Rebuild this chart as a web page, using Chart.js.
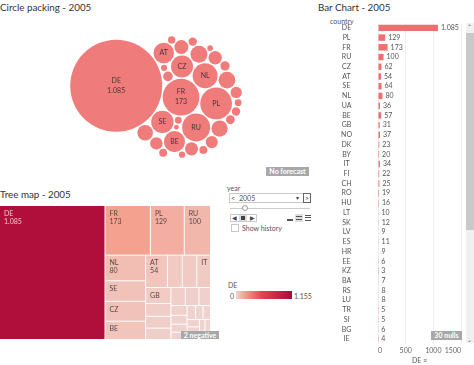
<!DOCTYPE html>
<html>
<head>
<meta charset="utf-8">
<script src="https://cdn.jsdelivr.net/npm/chart.js@4.4.0/dist/chart.umd.min.js"></script>
<style>
  body { margin: 0; width: 474px; height: 365px; overflow: hidden; background: #fff; font-family: Lato, sans-serif; color: #333; position: relative; }
  .abs { position: absolute; }
  .title { font-size: 9.8px; color: #333; white-space: nowrap; }
  .small { font-size: 7px; color: #555; white-space: nowrap; }
  .badge { background: #a8a8a8; color: #fff; font-size: 7px; font-weight: bold; text-align: center; }
  .box { border: 1px solid #c9c9c9; background: #fff; box-sizing: border-box; }
</style>
</head>
<body>

<div class="abs title" style="left:0;top:1px">Circle packing - 2005</div>
<canvas id="packChart" class="abs" style="left:0;top:14px" width="312" height="166"></canvas>
<div class="abs badge" style="left:266px;top:167px;width:43px;height:9px;line-height:9px">No forecast</div>

<div class="abs title" style="left:0;top:188px">Tree map - 2005</div>
<canvas id="treeChart" class="abs" style="left:0;top:206px" width="211" height="134"></canvas>
<div class="abs badge" style="left:181px;top:331px;width:38px;height:8px;line-height:8px">2 negative</div>

<!-- year filter -->
<div class="abs small" style="left:227px;top:184px">year</div>
<div class="abs box" style="left:229px;top:193px;width:82px;height:10px"></div>
<div class="abs small" style="left:231px;top:194px;color:#444">&lt;</div>
<div class="abs small" style="left:239px;top:194px">2005</div>
<div class="abs small" style="left:296px;top:194px;font-size:6px;color:#444">&#9662;</div>
<div class="abs box" style="left:303px;top:193px;width:8px;height:10px;border-color:#666"></div>
<div class="abs small" style="left:305px;top:194px;color:#444">&gt;</div>
<div class="abs" style="left:230px;top:208px;width:80px;height:1px;background:#ccc"></div>
<div class="abs" style="left:242px;top:205px;width:6px;height:6px;border:1px solid #999;border-radius:50%;background:#fff;box-sizing:border-box"></div>
<div class="abs box" style="left:230px;top:214px;width:27px;height:8px"></div>
<div class="abs small" style="left:232px;top:214px;font-size:6px;color:#444">&#9664;</div>
<div class="abs" style="left:239px;top:215px;width:8px;height:6px;background:#ddd"></div>
<div class="abs" style="left:241px;top:216px;width:4px;height:4px;background:#444"></div>
<div class="abs small" style="left:250px;top:214px;font-size:6px;color:#444">&#9654;</div>
<div class="abs" style="left:287px;top:219px;width:6px;height:2px;background:#555"></div>
<div class="abs" style="left:295px;top:214px;width:8px;height:8px;background:#ddd"></div>
<div class="abs" style="left:296px;top:216px;width:6px;height:4px;border-top:1px solid #555;border-bottom:1px solid #555;box-sizing:border-box"></div>
<div class="abs" style="left:305px;top:215px;width:6px;height:6px;border-top:1px solid #555;border-bottom:1px solid #555;box-sizing:border-box"></div>
<div class="abs" style="left:305px;top:217px;width:6px;height:2px;border-top:1px solid #555"></div>
<div class="abs box" style="left:231px;top:224px;width:8px;height:8px"></div>
<div class="abs small" style="left:242px;top:224px">Show history</div>

<!-- colour legend -->
<div class="abs small" style="left:228px;top:281px">DE</div>
<div class="abs small" style="left:230px;top:292px">0</div>
<div id="legendBar" class="abs" style="left:236px;top:291px;width:56px;height:8px"></div>
<div class="abs small" style="left:294px;top:292px">1.155</div>

<div class="abs title" style="left:318px;top:1px">Bar Chart - 2005</div>
<div class="abs small" style="left:330px;top:17px">country</div>
<canvas id="barChart" class="abs" style="left:315px;top:14px" width="152" height="351"></canvas>
<div class="abs" style="left:466px;top:23px;width:8px;height:320px;background:#f0f0f0"></div>
<div class="abs" style="left:466px;top:33px;width:8px;height:197px;background:#c9c9c9"></div>
<div class="abs small" style="left:467px;top:23px;font-size:6px">&#8963;</div>
<div class="abs small" style="left:467px;top:336px;font-size:6px">&#8964;</div>
<div class="abs badge" style="left:431px;top:331px;width:31px;height:9px;line-height:9px">30 nulls</div>

<script>
// data (year 2005)
const countries = ['DE', 'PL', 'FR', 'RU', 'CZ', 'AT', 'SE', 'NL', 'UA', 'BE', 'GB', 'NO', 'DK', 'BY', 'IT', 'FI', 'CH',
    'RO', 'HU', 'LT', 'SK', 'LV', 'ES', 'HR', 'EE', 'KZ', 'BA', 'RS', 'LU', 'TR', 'SI', 'BG', 'IE'];
const values = [1085, 129, 173, 100, 62, 54, 64, 80, 36, 57, 31, 37, 23, 20, 34, 22, 25,
    19, 16, 10, 12, 9, 11, 9, 6, 3, 7, 8, 8, 5, 5, 6, 4];
const xTicks = [0, 500, 1000, 1500];
const legendMin = 0;
const legendMax = 1155;

const BAR_COLOR = '#ec6f72';
const BUBBLE_COLOR = '#f07b7b';
const colorStops = [[0, '#efd5d1'], [0.15, '#f5a190'], [0.45, '#e4474f'], [1, '#ab0839']];

function fmt(v) {
    return String(v).replace(/\B(?=(\d{3})+(?!\d))/g, '.');
}

function hexToRgb(h) {
    return [1, 3, 5].map(i => parseInt(h.substr(i, 2), 16));
}

function colorFor(v) {
    const t = Math.max(0, Math.min(1, (v - legendMin) / (legendMax - legendMin)));
    for (let i = 1; i < colorStops.length; i++) {
        if (t <= colorStops[i][0]) {
            const [t0, c0] = colorStops[i - 1];
            const [t1, c1] = colorStops[i];
            const f = (t - t0) / (t1 - t0);
            const a = hexToRgb(c0), b = hexToRgb(c1);
            return 'rgb(' + a.map((x, k) => Math.round(x + (b[k] - x) * f)).join(',') + ')';
        }
    }
    return colorStops[colorStops.length - 1][1];
}

document.getElementById('legendBar').style.background =
    'linear-gradient(to right,' + colorStops.map(s => s[1] + ' ' + (s[0] * 100) + '%').join(',') + ')';

// sorted by value, biggest first
const order = countries.map((c, i) => i).sort((a, b) => values[b] - values[a]);

// ---------- circle packing: biggest first, the rest packed as close as possible to the second ----------
function overlapsAny(c, placed) {
    return placed.some(p => {
        const dx = p.x - c.x, dy = p.y - c.y, rr = p.r + c.r - 1e-6;
        return dx * dx + dy * dy < rr * rr;
    });
}

function packGreedy(circles) {
    const placed = [];
    let tx = 0, ty = 0;
    circles.forEach((c, n) => {
        if (n === 0) { c.x = 0; c.y = 0; placed.push(c); return; }
        if (n === 1) {
            c.x = placed[0].r + c.r; c.y = 0;
            tx = c.x; ty = c.y;
            placed.push(c); return;
        }
        const cands = [];
        placed.forEach(p => {
            let dx = tx - p.x, dy = ty - p.y, d = Math.hypot(dx, dy);
            if (d < 1e-9) { dx = 1; dy = 0; d = 1; }
            cands.push({ x: p.x + dx / d * (p.r + c.r), y: p.y + dy / d * (p.r + c.r) });
        });
        for (let a = 0; a < placed.length; a++) {
            for (let b = a + 1; b < placed.length; b++) {
                const p = placed[a], q = placed[b];
                const ra = p.r + c.r, rb = q.r + c.r;
                const dx = q.x - p.x, dy = q.y - p.y, d = Math.hypot(dx, dy);
                if (d > ra + rb || d < Math.abs(ra - rb) || d === 0) continue;
                const l = (ra * ra - rb * rb + d * d) / (2 * d);
                const h = Math.sqrt(Math.max(0, ra * ra - l * l));
                const mx = p.x + dx * l / d, my = p.y + dy * l / d;
                cands.push({ x: mx - dy * h / d, y: my + dx * h / d });
                cands.push({ x: mx + dy * h / d, y: my - dx * h / d });
            }
        }
        let best = null, bestD = Infinity;
        cands.forEach(k => {
            if (overlapsAny({ x: k.x, y: k.y, r: c.r }, placed)) return;
            const dd = (k.x - tx) ** 2 + (k.y - ty) ** 2;
            if (dd < bestD) { bestD = dd; best = k; }
        });
        c.x = best.x; c.y = best.y;
        placed.push(c);
    });
}

const PACK_W = 312, PACK_H = 166;
const R_SCALE = 1.397;   // px per sqrt(value)
const GAP = 0.7;
const ROT = 10 * Math.PI / 180;

const circles = order.map(i => ({ i, r: R_SCALE * Math.sqrt(values[i]) + GAP }));
packGreedy(circles);
circles.forEach(c => {
    const x = c.x, y = c.y;
    c.x = x * Math.cos(ROT) - y * Math.sin(ROT);
    c.y = x * Math.sin(ROT) + y * Math.cos(ROT);
});
const minX = Math.min(...circles.map(c => c.x - c.r)), maxX = Math.max(...circles.map(c => c.x + c.r));
const minY = Math.min(...circles.map(c => c.y - c.r)), maxY = Math.max(...circles.map(c => c.y + c.r));
const offX = PACK_W / 2 - (minX + maxX) / 2, offY = PACK_H / 2 - (minY + maxY) / 2;

const bubbleData = circles.map(c => ({ x: c.x + offX, y: c.y + offY, r: c.r - GAP, i: c.i }));

const bubbleLabels = {
    id: 'bubbleLabels',
    afterDatasetsDraw(chart) {
        const ctx = chart.ctx;
        const meta = chart.getDatasetMeta(0);
        ctx.save();
        ctx.font = '7px Lato, sans-serif';
        ctx.fillStyle = '#4a3434';
        ctx.textAlign = 'center';
        ctx.textBaseline = 'middle';
        meta.data.forEach((el, k) => {
            const d = bubbleData[k];
            if (d.r >= 17) {
                ctx.fillText(countries[d.i], el.x, el.y - 5);
                ctx.fillText(fmt(values[d.i]), el.x, el.y + 5);
            } else if (d.r >= 10) {
                ctx.fillText(countries[d.i], el.x, el.y);
            }
        });
        ctx.restore();
    }
};

new Chart(document.getElementById('packChart'), {
    type: 'bubble',
    data: {
        datasets: [{
            data: bubbleData,
            backgroundColor: BUBBLE_COLOR,
            borderWidth: 0,
            clip: false
        }]
    },
    options: {
        responsive: false,
        animation: false,
        layout: { padding: 0, autoPadding: false },
        plugins: { legend: { display: false }, tooltip: { enabled: false } },
        scales: {
            x: { type: 'linear', min: 0, max: PACK_W, display: false },
            y: { type: 'linear', min: 0, max: PACK_H, reverse: true, display: false }
        }
    },
    plugins: [bubbleLabels]
});

// ---------- tree map ----------
const TOL = 1.05;

function worstRatio(row, sum, side) {
    const thick = sum / side;
    let worst = 0;
    row.forEach(it => {
        const len = it.area / thick;
        worst = Math.max(worst, len / thick, thick / len);
    });
    return worst;
}

function squarify(items, x, y, w, h) {
    const out = [];
    let i = 0;
    while (i < items.length) {
        const side = Math.min(w, h);
        const row = [items[i]];
        let sum = items[i].area;
        let worst = worstRatio(row, sum, side);
        let j = i + 1;
        while (j < items.length) {
            const s2 = sum + items[j].area;
            const w2 = worstRatio(row.concat(items[j]), s2, side);
            if (w2 - worst > TOL) break;
            row.push(items[j]); sum = s2; worst = w2; j++;
        }
        const thick = sum / side;
        if (w >= h) {
            let yy = y;
            row.forEach(it => { const hh = it.area / thick; out.push({ i: it.i, x, y: yy, w: thick, h: hh }); yy += hh; });
            x += thick; w -= thick;
        } else {
            let xx = x;
            row.forEach(it => { const ww = it.area / thick; out.push({ i: it.i, x: xx, y, w: ww, h: thick }); xx += ww; });
            y += thick; h -= thick;
        }
        i = j;
    }
    return out;
}

const TREE_W = 211, TREE_H = 134;

const treemapPlugin = {
    id: 'treemap',
    afterDatasetsDraw(chart) {
        const { ctx, scales: { x, y } } = chart;
        const total = values.reduce((s, v) => s + v, 0);
        const items = order.map(i => ({ i, area: values[i] / total * TREE_W * TREE_H }));
        const cells = squarify(items, 0, 0, TREE_W, TREE_H);
        ctx.save();
        ctx.font = '7px Lato, sans-serif';
        ctx.textBaseline = 'top';
        cells.forEach(c => {
            const x0 = x.getPixelForValue(c.x), x1 = x.getPixelForValue(c.x + c.w);
            const y0 = y.getPixelForValue(c.y), y1 = y.getPixelForValue(c.y + c.h);
            const v = values[c.i];
            ctx.fillStyle = colorFor(v);
            ctx.fillRect(x0, y0, x1 - x0 - 1, y1 - y0 - 1);
            const name = countries[c.i];
            const cw = x1 - x0, ch = y1 - y0;
            ctx.fillStyle = v > 600 ? '#f6c3cd' : '#5a4646';
            if (ch >= 15 && ctx.measureText(name).width + 6 <= cw) {
                ctx.fillText(name, x0 + 4, y0 + 4);
                if (ch >= 24 && ctx.measureText(fmt(v)).width + 8 <= cw) ctx.fillText(fmt(v), x0 + 4, y0 + 12);
            }
        });
        ctx.restore();
    }
};

new Chart(document.getElementById('treeChart'), {
    type: 'scatter',
    data: { datasets: [{ data: [] }] },
    options: {
        responsive: false,
        animation: false,
        layout: { padding: 0, autoPadding: false },
        plugins: { legend: { display: false }, tooltip: { enabled: false } },
        scales: {
            x: { type: 'linear', min: 0, max: TREE_W, display: false },
            y: { type: 'linear', min: 0, max: TREE_H, reverse: true, display: false }
        }
    },
    plugins: [treemapPlugin]
});

// ---------- bar chart ----------
const barLabels = {
    id: 'barLabels',
    afterDatasetsDraw(chart) {
        const ctx = chart.ctx;
        const meta = chart.getDatasetMeta(0);
        ctx.save();
        ctx.font = '7px Lato, sans-serif';
        ctx.fillStyle = '#555';
        ctx.textBaseline = 'middle';
        meta.data.forEach((el, k) => {
            ctx.fillText(fmt(values[k]), el.x + 3, el.y);
        });
        ctx.restore();
    }
};

new Chart(document.getElementById('barChart'), {
    type: 'bar',
    data: {
        labels: countries,
        datasets: [{
            data: values,
            backgroundColor: BAR_COLOR,
            barPercentage: 0.66,
            categoryPercentage: 1
        }]
    },
    options: {
        indexAxis: 'y',
        responsive: false,
        animation: false,
        layout: { padding: { top: 9, right: 6, left: 0, bottom: 0 } },
        plugins: { legend: { display: false }, tooltip: { enabled: false } },
        scales: {
            x: {
                min: 0,
                max: 1500,
                afterBuildTicks: s => { s.ticks = xTicks.map(v => ({ value: v })); },
                afterFit: s => { s.height = 21; s.paddingLeft = 0; s.paddingRight = 0; },
                grid: { color: '#eeeeee', drawTicks: false },
                border: { display: false },
                ticks: { font: { family: 'Lato', size: 7 }, color: '#666', padding: 3, maxRotation: 0, align: 'inner', callback: v => String(v) },
                title: { display: true, text: 'DE \u2261', font: { family: 'Lato', size: 7 }, color: '#555', padding: { top: 0, bottom: 0 } }
            },
            y: {
                afterFit: s => { s.width = 63; s.paddingTop = 0; s.paddingBottom = 0; },
                grid: { display: false, drawTicks: false },
                border: { display: false },
                ticks: { font: { family: 'Lato', size: 7 }, color: '#555', padding: 26, crossAlign: 'center', autoSkip: false }
            }
        }
    },
    plugins: [barLabels]
});
</script>
</body>
</html>
